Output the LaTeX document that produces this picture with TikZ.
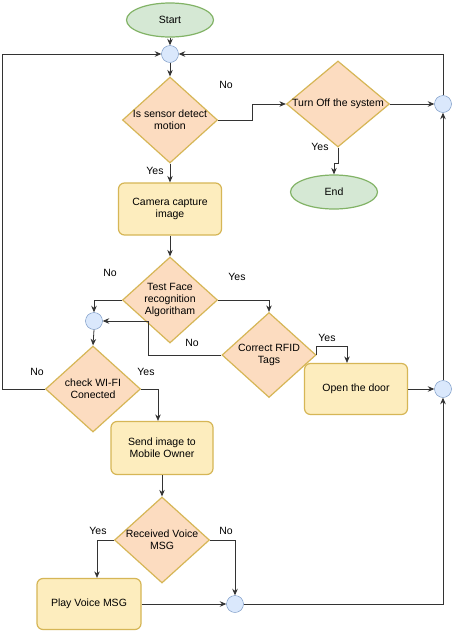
\documentclass[tikz,border=0pt]{standalone}
\usepackage{fontspec}
\setmainfont{Liberation Sans}
\usepackage{xcolor}
\usepackage{tikz}
\usetikzlibrary{arrows, arrows.meta}
\usetikzlibrary{positioning}
\usetikzlibrary{calc}
\usetikzlibrary{shapes.geometric}
\definecolor{termFill}{HTML}{D5E8D4}
\definecolor{termLine}{HTML}{82B366}
\definecolor{decFill}{HTML}{FCDCC0}
\definecolor{boxFill}{HTML}{FDEDBE}
\definecolor{goldLine}{HTML}{D6B656}
\definecolor{joinFill}{HTML}{DAE8FC}
\definecolor{joinLine}{HTML}{6C8EBF}
\definecolor{flowLine}{HTML}{333333}
\begin{document}
\begin{tikzpicture}[x=1pt, y=-1pt, font=\fontsize{10.5}{12.2}\selectfont,
	terminal/.style={ellipse, draw=termLine, fill=termFill, line width=1.2pt, minimum width=87pt, minimum height=34pt, inner sep=0pt},
	decision/.style={diamond, draw=goldLine, fill=decFill, line width=1.2pt, minimum width=95pt, minimum height=86pt, inner sep=-4pt, align=center},
	procbox/.style={rectangle, rounded corners=6pt, draw=goldLine, fill=boxFill, line width=1.2pt, minimum width=103pt, minimum height=52pt, align=center},
	joint/.style={circle, draw=joinLine, fill=joinFill, minimum size=17pt, inner sep=0pt},
	flow/.style={draw=flowLine, line width=0.8pt, -{Stealth[length=6.5pt, width=5.5pt]}},
	answer/.style={inner sep=0pt}]
	\useasboundingbox (0,0) rectangle (452,633);
	\fill[white] (0,0) rectangle (452,633);
	% shapes
	\node[terminal] (start) at (170,20) {Start};
	\node[joint] (j1) at (170,54) {};
	\node[decision] (sensor) at (170,120) {Is sensor detect\\motion};
	\node[decision, minimum width=103pt] (turnoff) at (338,104) {Turn Off the system};
	\node[terminal] (finish) at (334,192) {End};
	\node[joint] (jR1) at (443,104) {};
	\node[procbox] (camera) at (170,209) {Camera capture\\image};
	\node[decision] (face) at (170,300) {Test Face\\recognition\\Algoritham};
	\node[joint] (j2) at (94,321) {};
	\node[decision, minimum width=94pt, minimum height=85pt] (rfid) at (269,355) {Correct RFID\\Tags};
	\node[procbox, minimum height=51pt] (door) at (356,389) {Open the door};
	\node[joint] (jR2) at (443,389) {};
	\node[decision] (wifi) at (93,389) {check WI-FI\\Conected};
	\node[procbox, minimum width=102pt, minimum height=53pt] (send) at (162,448) {Send image to\\Mobile Owner};
	\node[decision] (voice) at (162,540) {Received Voice\\MSG};
	\node[procbox, minimum width=104pt, minimum height=51pt] (play) at (89,604) {Play Voice MSG};
	\node[joint] (j3) at (235,604) {};
	% labels
	\node[answer] (sensorNo) at (226,85) {No};
	\node[answer] (sensorYes) at (155,171) {Yes};
	\node[answer] (turnoffYes) at (320,147) {Yes};
	\node[answer] (faceNo) at (110,273) {No};
	\node[answer] (faceYes) at (237,277) {Yes};
	\node[answer] (rfidNo) at (192,343) {No};
	\node[answer] (rfidYes) at (327,338) {Yes};
	\node[answer] (wifiNo) at (37,372) {No};
	\node[answer] (wifiYes) at (146,372) {Yes};
	\node[answer] (voiceYes) at (98,531) {Yes};
	\node[answer] (voiceNo) at (226,531) {No};
	% connectors
	\draw[flow] (start) -- (j1);
	\draw[flow] (j1) -- (sensor);
	\draw[flow] (sensor.east) -- ++(34,0) |- (turnoff.west);
	\draw[flow] (turnoff.east) -- (jR1.west);
	\draw[flow] (turnoff.south) -- ++(0,16) -| (finish.north);
	\draw[flow] (jR1.north) |- (j1.east);
	\draw[flow] (sensor.south) -- (camera.north);
	\draw[flow] (camera.south) -- (face.north);
	\draw[flow] (face.west) -| (j2.north);
	\draw[flow] (face.east) -| (rfid.north);
	\draw[flow] (rfid.west) -- ++(-73,0) |- (j2.east);
	\draw[flow] (rfid.east) -- ++(0,-9) -| ([xshift=-9pt]door.north);
	\draw[flow] (door.east) -- (jR2.west);
	\draw[flow] (jR2.north) -- (jR1.south);
	\draw[flow] (j2.south) -- (wifi.north);
	\draw[flow] (wifi.west) -- ++(-43,0) |- (j1.west);
	\draw[flow] (wifi.east) -| ([xshift=-4pt]send.north);
	\draw[flow] (send.south) -- (voice.north);
	\draw[flow] (voice.west) -| ([xshift=8pt]play.north);
	\draw[flow] (voice.east) -| (j3.north);
	\draw[flow] (play.east) -- (j3.west);
	\draw[flow] (j3.east) -| (jR2.south);
\end{tikzpicture}
\end{document}
